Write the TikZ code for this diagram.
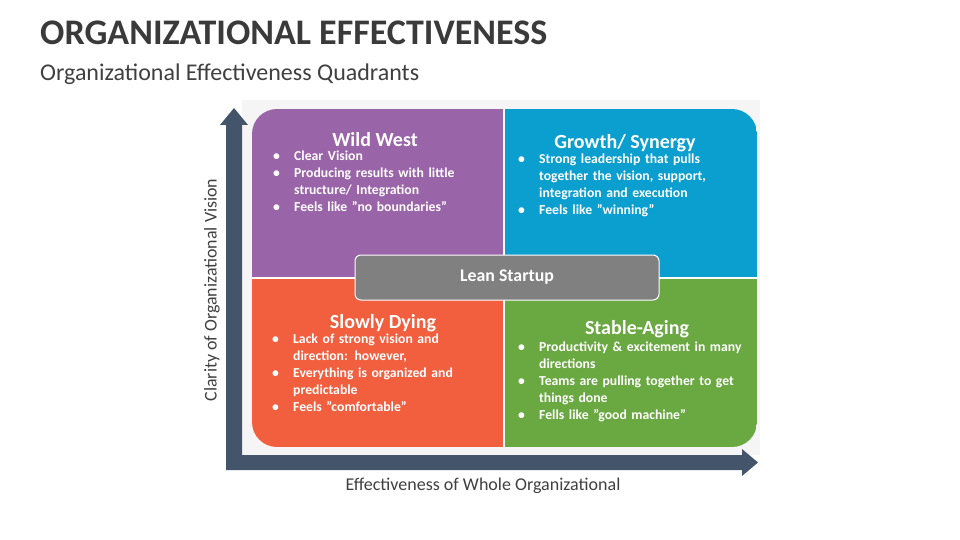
\documentclass[tikz,border=0pt]{standalone}
\usepackage{fontspec}
\setmainfont{Carlito}
\definecolor{ttl}{HTML}{3A3A3A}
\definecolor{sub}{HTML}{404040}
\definecolor{axis}{HTML}{44546A}
\definecolor{qpur}{HTML}{9A64A8}
\definecolor{qblu}{HTML}{0A9FCF}
\definecolor{qora}{HTML}{F15F3E}
\definecolor{qgre}{HTML}{6AA842}
\definecolor{lean}{HTML}{808080}
\newcommand{\bl}[1]{\hangindent=21pt\hangafter=1\noindent\makebox[21pt][l]{•}#1\par}
\tikzset{
  qtitle/.style={text=white,font=\bfseries\fontsize{20}{22}\selectfont,inner sep=0},
  qlist/.style={text=white,font=\bfseries\fontsize{13.7}{17}\selectfont,inner sep=0,anchor=north west,text width=255pt},
}
\begin{document}
\begin{tikzpicture}[x=1pt,y=-1pt]
\useasboundingbox (0,0) rectangle (960,540);
\fill[white] (0,0) rectangle (960,540);
\node[anchor=base west,inner sep=0,text=ttl,font=\bfseries\fontsize{36}{38}\selectfont] (title) at (40,45) {ORGANIZATIONAL EFFECTIVENESS};
\node[anchor=base west,inner sep=0,text=sub,font=\fontsize{24}{26}\selectfont] (subtitle) at (40,81) {Organizational Effectiveness Quadrants};
% panel
\fill[black!4] (242,100) rectangle (760,455);
% axes
\fill[axis] (226,470) -- (226,125) -- (220,125) -- (234,108) -- (248,125) -- (242,125) -- (242,455) -- (742,455) -- (742,449) -- (758,462.5) -- (742,476) -- (742,470) -- cycle;
% quadrants
\begin{scope}
\clip[rounded corners=25pt] (252,109) rectangle (757,447);
\fill[qpur] (252,109) rectangle (504,278);
\fill[qblu] (504,109) rectangle (757,278);
\fill[qora] (252,278) rectangle (504,447);
\fill[qgre] (504,278) rectangle (757,447);
\draw[white,line width=1.2pt] (504,109) -- (504,447) (252,278) -- (757,278);
\end{scope}
\node[draw=white,line width=1pt,fill=lean,rounded corners=6pt,minimum width=304pt,minimum height=45pt,text=white,font=\bfseries\fontsize{17.8}{20}\selectfont] (leanbox) at (507,277.5) {Lean Startup};
% texts
\node[qtitle] (t1) at (375,140) {Wild West};
\node[qlist] (l1) at (273,151) {\raggedright\bl{Clear Vision}\bl{Producing results with little\newline structure/ Integration}\bl{Feels like "no boundaries"}};
\node[qtitle] (t2) at (625,143) {Growth/ Synergy};
\node[qlist] (l2) at (518,154) {\raggedright\bl{Strong leadership that pulls\newline together the vision, support,\newline integration and execution}\bl{Feels like "winning"}};
\node[qtitle] (t3) at (383,323) {Slowly Dying};
\node[qlist] (l3) at (272,334) {\raggedright\bl{Lack of strong vision and\newline direction: however,}\bl{Everything is organized and\newline predictable}\bl{Feels "comfortable"}};
\node[qtitle] (t4) at (637,329) {Stable-Aging};
\node[qlist] (l4) at (518,342) {\raggedright\bl{Productivity \& excitement in many\newline directions}\bl{Teams are pulling together to get\newline things done}\bl{Fells like "good machine"}};
% axis labels
\node[rotate=90,text=sub,font=\fontsize{17.9}{20}\selectfont,inner sep=0] (ylab) at (212,290) {Clarity of Organizational Vision};
\node[text=sub,font=\fontsize{18}{20}\selectfont,inner sep=0] (xlab) at (483,486) {Effectiveness of Whole Organizational};
\end{tikzpicture}
\end{document}
